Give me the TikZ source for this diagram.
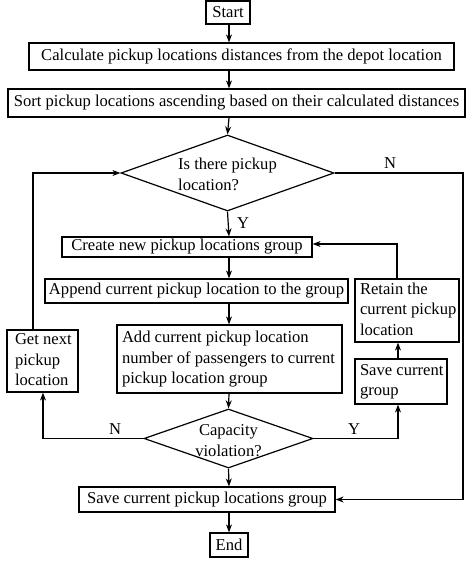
\documentclass[tikz,border=0pt]{standalone}
\usepackage{fontspec}
\setmainfont{Liberation Serif}
\usetikzlibrary{arrows.meta,shapes.geometric}
\newcommand{\lefttab}[2]{\makebox[#1][l]{\begin{tabular}{@{}l@{}}#2\end{tabular}}}
\begin{document}
\begin{tikzpicture}[x=1pt,y=-1pt,
  every node/.style={font=\fontsize{16.6}{20.5}\selectfont},
  box/.style={draw,line width=1.2pt,rectangle,inner sep=0pt,align=center},
  lbox/.style={draw,line width=1.2pt,rectangle,inner xsep=5pt,inner ysep=0pt},
  dia/.style={draw,line width=1.2pt,diamond,inner sep=0pt},
  flow/.style={line width=1.2pt,-{Stealth[length=8pt,width=6pt]}},
  lab/.style={inner sep=0pt}]
\useasboundingbox (0,0) rectangle (474,572);
\node[box,minimum width=44pt,minimum height=23pt] (start) at (228,12.5) {Start};
\node[box,minimum width=425pt,minimum height=27pt] (calc) at (241.5,56.5) {Calculate pickup locations distances from the depot location};
\node[box,minimum width=457pt,minimum height=28pt] (sort) at (236.5,103) {Sort pickup locations ascending based on their calculated distances};
\node[dia,minimum width=213pt,minimum height=76pt] (d1) at (227.5,173) {\makebox[0pt]{\smash{\raisebox{-7pt}{\begin{tabular}{@{}l@{}}Is there pickup\\location?\end{tabular}}}}};
\node[box,minimum width=250pt,minimum height=20pt] (create) at (187,247) {Create new pickup locations group};
\node[box,minimum width=303pt,minimum height=24pt] (append) at (196.5,291) {Append current pickup location to the group};
\node[lbox,minimum height=68pt] (add) at (229.5,359) {\lefttab{215pt}{Add current pickup location\\number of passengers to current\\pickup location group}};
\node[lbox,inner xsep=8pt,minimum height=62pt] (getnext) at (42.5,361) {\lefttab{55pt}{Get next\\pickup\\location}};
\node[lbox,inner xsep=5pt,minimum height=63pt] (retain) at (407,310.5) {\lefttab{94pt}{Retain the\\current pickup\\location}};
\node[lbox,inner xsep=5pt,minimum height=45pt] (savecur) at (401,381.5) {\lefttab{82pt}{Save current\\group}};
\node[dia,minimum width=169pt,minimum height=59pt] (d2) at (228.5,438.5) {\makebox[0pt]{\smash{\raisebox{-7.5pt}{\begin{tabular}{@{}c@{}}Capacity\\violation?\end{tabular}}}}};
\node[box,minimum width=256pt,minimum height=25pt] (savegrp) at (207,499.5) {Save current pickup locations group};
\node[box,minimum width=38pt,minimum height=24pt] (end) at (229,545) {End};
\coordinate (spine) at (229,0);
\coordinate (rightrail) at (463,0);
\coordinate (leftrail) at (33,0);
\coordinate (leftrail2) at (43,0);
\coordinate (yrail) at (398,0);
\draw[flow] (spine |- start.south) -- (spine |- calc.north);
\draw[flow] (spine |- calc.south) -- (spine |- sort.north);
\draw[flow] (spine |- sort.south) -- (d1.north);
\draw[flow] (d1.south) -- (spine |- create.north);
\draw[flow] (spine |- create.south) -- (spine |- append.north);
\draw[flow] (spine |- append.south) -- (spine |- add.north);
\draw[flow] (spine |- add.south) -- (d2.north);
\draw[flow] (d2.south) -- (spine |- savegrp.north);
\draw[flow] (spine |- savegrp.south) -- (spine |- end.north);
\draw[flow] (d1.east) -- (rightrail |- d1.east) -- (rightrail |- savegrp.east) -- (savegrp.east);
\draw[flow] (leftrail |- getnext.north) -- (leftrail |- d1.west) -- (d1.west);
\draw[flow] (d2.west) -- (leftrail2 |- d2.west) -- (leftrail2 |- getnext.south);
\draw[flow] (d2.east) -- (yrail |- d2.east) -- (yrail |- savecur.south);
\draw[flow] (yrail |- savecur.north) -- (yrail |- retain.south);
\draw[flow] (397,0 |- retain.north) -- (397,244) -- (create.east |- 0,244);
\node[lab] (nl1) at (390,163) {N};
\node[lab] (yl1) at (243,223) {Y};
\node[lab] (nl2) at (115,429) {N};
\node[lab] (yl2) at (354,429) {Y};
\end{tikzpicture}
\end{document}
